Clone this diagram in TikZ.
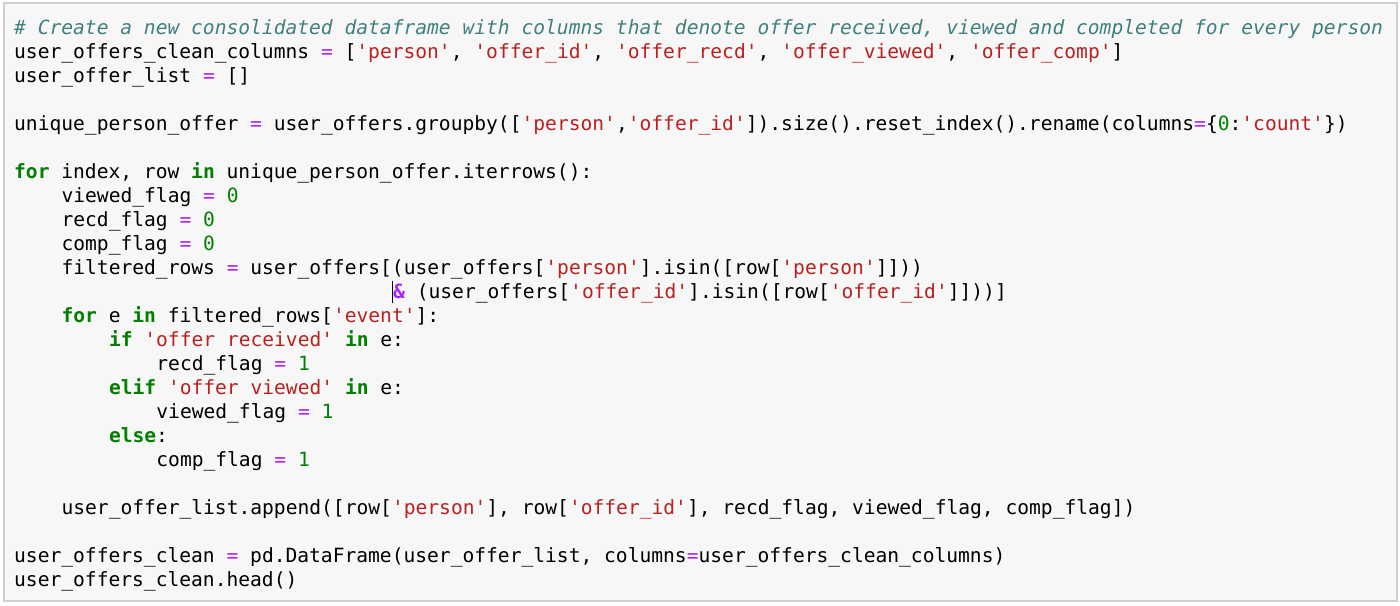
\documentclass[tikz,border=0pt]{standalone}
\usepackage{fontspec}
\setmonofont{DejaVu Sans Mono}
\definecolor{kw}{HTML}{008000}
\definecolor{st}{HTML}{BA2121}
\definecolor{op}{HTML}{AA22FF}
\definecolor{cm}{HTML}{408080}
\definecolor{bgc}{HTML}{F7F7F7}
\definecolor{bdc}{HTML}{CFCFCF}
\newcommand\kw[1]{\textcolor{kw}{\bfseries #1}}
\newcommand\st[1]{\textcolor{st}{'#1'}}
\newcommand\op[1]{\textcolor{op}{#1}}
\newcommand\nm[1]{\textcolor{kw}{#1}}
\begin{document}
\begin{tikzpicture}[x=1pt,y=1pt,
  ln/.style={anchor=base west,inner sep=0pt,font=\ttfamily\fontsize{19.6}{24}\selectfont}]
\useasboundingbox (0,0) rectangle (1400,-605);
\draw[bdc,fill=bgc,line width=1.2pt] (4,-3) rectangle (1397,-601);
\node[ln] (l1) at (14,-34) {\textcolor{cm}{\itshape \# Create a new consolidated dataframe with columns that denote offer received, viewed and completed for every person}};
\node[ln] (l2) at (14,-58) {user\_offers\_clean\_columns \op{=} [\st{person}, \st{offer\_id}, \st{offer\_recd}, \st{offer\_viewed}, \st{offer\_comp}]};
\node[ln] (l3) at (14,-82) {user\_offer\_list \op{=} []};
\node[ln] (l4) at (14,-130) {unique\_person\_offer \op{=} user\_offers.groupby([\st{person},\st{offer\_id}]).size().reset\_index().rename(columns\op{=}\{\nm{0}:\st{count}\})};
\node[ln] (l5) at (14,-178) {\kw{for} index, row \kw{in} unique\_person\_offer.iterrows():};
\node[ln] (l6) at (61.4,-202) {viewed\_flag \op{=} \nm{0}};
\node[ln] (l7) at (61.4,-226) {recd\_flag \op{=} \nm{0}};
\node[ln] (l8) at (61.4,-250) {comp\_flag \op{=} \nm{0}};
\node[ln] (l9) at (61.4,-274) {filtered\_rows \op{=} user\_offers[(user\_offers[\st{person}].isin([row[\st{person}]]))};
\node[ln] (l10) at (393,-298) {\op{\bfseries\&} (user\_offers[\st{offer\_id}].isin([row[\st{offer\_id}]]))]};
\draw[line width=0.9pt] (392,-281) -- (392,-303);
\node[ln] (l11) at (61.4,-322) {\kw{for} e \kw{in} filtered\_rows[\st{event}]:};
\node[ln] (l12) at (108.8,-346) {\kw{if} \st{offer received} \kw{in} e:};
\node[ln] (l13) at (156.2,-370) {recd\_flag \op{=} \nm{1}};
\node[ln] (l14) at (108.8,-394) {\kw{elif} \st{offer viewed} \kw{in} e:};
\node[ln] (l15) at (156.2,-418) {viewed\_flag \op{=} \nm{1}};
\node[ln] (l16) at (108.8,-442) {\kw{else}:};
\node[ln] (l17) at (156.2,-466) {comp\_flag \op{=} \nm{1}};
\node[ln] (l18) at (61.4,-514) {user\_offer\_list.append([row[\st{person}], row[\st{offer\_id}], recd\_flag, viewed\_flag, comp\_flag])};
\node[ln] (l19) at (14,-562) {user\_offers\_clean \op{=} pd.DataFrame(user\_offer\_list, columns\op{=}user\_offers\_clean\_columns)};
\node[ln] (l20) at (14,-586) {user\_offers\_clean.head()};
\end{tikzpicture}
\end{document}
